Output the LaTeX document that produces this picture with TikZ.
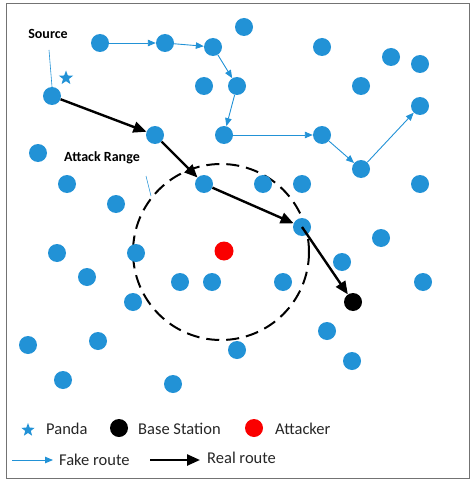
\documentclass[tikz,border=0pt]{standalone}
\usepackage{fontspec}
\setmainfont{Carlito}
\usetikzlibrary{arrows.meta,shapes.geometric}
\definecolor{nodeblue}{RGB}{34,146,214}
\definecolor{attred}{RGB}{250,0,0}
\tikzset{
  sn/.style={circle,fill=nodeblue,minimum size=18pt,inner sep=0pt},
  bsn/.style={circle,fill=black,minimum size=18pt,inner sep=0pt},
  atn/.style={circle,fill=attred,minimum size=19pt,inner sep=0pt},
  fake/.style={draw=nodeblue,line width=0.9pt,-{Triangle[length=8pt,width=6.5pt]}},
  real/.style={draw=black,line width=2.4pt,-{Triangle[length=13pt,width=11pt]}},
  lbl/.style={font=\fontsize{14}{16}\selectfont\bfseries,inner sep=0pt},
  leg/.style={font=\fontsize{16.5}{19}\selectfont,inner sep=0pt,anchor=west,text=black!85},
  pandastar/.style={star,star points=5,star point ratio=2.4,fill=nodeblue,inner sep=0pt,minimum size=15pt},
  pointer/.style={draw=nodeblue,line width=0.6pt}
}
\begin{document}
\begin{tikzpicture}[x=1pt,y=-1pt]
\useasboundingbox (0,0) rectangle (474,484);
\draw[draw=black!55,line width=1pt] (6,4) rectangle (469,478);
% attack range
\draw[line width=2pt,dash pattern=on 13pt off 7pt] (221,252) circle (88);
% sensor nodes
\node[sn] (n1) at (100,43) {};
\node[sn] (n2) at (165,43) {};
\node[sn] (n3) at (213,47) {};
\node[sn] (n4) at (244,27) {};
\node[sn] (n5) at (322,47) {};
\node[sn] (n6) at (391,57) {};
\node[sn] (n7) at (420,64) {};
\node[sn] (src) at (52,96) {};
\node[sn] (n9) at (204,86) {};
\node[sn] (n10) at (237,86) {};
\node[sn] (n11) at (361,86) {};
\node[sn] (n12) at (420,106) {};
\node[sn] (n13) at (155,135) {};
\node[sn] (n14) at (224,135) {};
\node[sn] (n15) at (322,135) {};
\node[sn] (n16) at (38,153) {};
\node[sn] (n17) at (361,169) {};
\node[sn] (n18) at (67,184) {};
\node[sn] (n19) at (204,184) {};
\node[sn] (n20) at (263,184) {};
\node[sn] (n21) at (302,184) {};
\node[sn] (n22) at (420,184) {};
\node[sn] (n23) at (116,204) {};
\node[sn] (n24) at (302,227) {};
\node[sn] (n25) at (381,238) {};
\node[sn] (n26) at (57,253) {};
\node[sn] (n27) at (136,253) {};
\node[atn] (att) at (224,251) {};
\node[sn] (n28) at (342,262) {};
\node[sn] (n29) at (87,277) {};
\node[sn] (n30) at (180,282) {};
\node[sn] (n31) at (212,282) {};
\node[sn] (n32) at (283,282) {};
\node[sn] (n33) at (423,282) {};
\node[sn] (n34) at (133,302) {};
\node[bsn] (bs) at (353,302) {};
\node[sn] (n35) at (327,331) {};
\node[sn] (n36) at (28,345) {};
\node[sn] (n37) at (98,341) {};
\node[sn] (n38) at (237,350) {};
\node[sn] (n39) at (352,361) {};
\node[sn] (n40) at (63,380) {};
\node[sn] (n41) at (173,384) {};
% panda
\node[pandastar] (panda) at (66,78) {};
% labels
\node[lbl] (srclbl) at (48,34) {Source};
\node[lbl] (arlbl) at (102,158) {Attack Range};
\coordinate (srcp1) at (49,50);
\coordinate (arp1) at (146,176);
\coordinate (arp2) at (151,196);
\draw[pointer] (srcp1) -- (src.north);
\draw[pointer] (arp1) -- (arp2);
% fake route
\draw[fake] (n1) -- (n2);
\draw[fake] (n2) -- (n3);
\draw[fake] (n3) -- (n10);
\draw[fake] (n10) -- (n14);
\draw[fake] (n14) -- (n15);
\draw[fake] (n15) -- (n17);
\draw[fake] (n17) -- (n12);
% real route
\draw[real] (src) -- (n13);
\draw[real] (n13) -- (n19);
\draw[real] (n19) -- (n24);
\draw[real] (n24.center) -- (bs);
% legend
\node[pandastar,minimum size=14pt] (lgstar) at (28,430) {};
\node[leg] (lgpanda) at (46,429) {Panda};
\node[bsn] (lgbs) at (119,428) {};
\node[leg] (lgbst) at (138,429) {Base Station};
\node[atn,minimum size=18pt] (lgatt) at (254,428) {};
\node[leg] (lgattt) at (275,429) {Attacker};
\coordinate (lf1) at (12,460);
\coordinate (lf2) at (53,460);
\draw[fake] (lf1) -- (lf2);
\node[leg] (lgfake) at (59,460) {Fake route};
\coordinate (lr1) at (150,460);
\coordinate (lr2) at (200,460);
\draw[real] (lr1) -- (lr2);
\node[leg] (lgreal) at (207,458) {Real route};
\end{tikzpicture}
\end{document}
